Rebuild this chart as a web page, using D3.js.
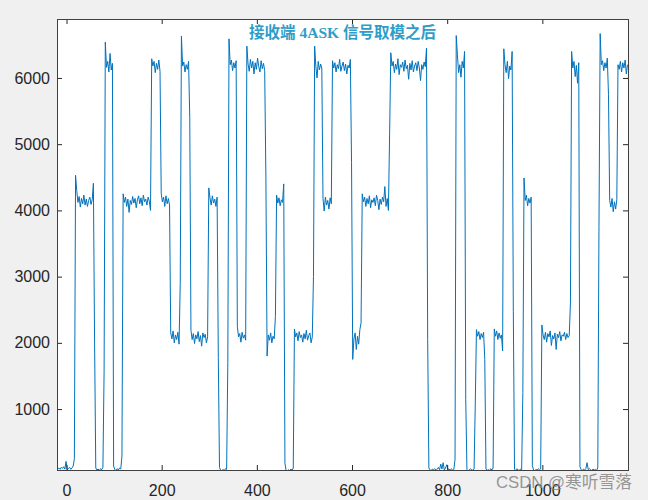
<!DOCTYPE html>
<html><head><meta charset="utf-8">
<script src="https://cdn.jsdelivr.net/npm/d3@7"></script>
<style>html,body{margin:0;padding:0;background:#f0f0f0;} svg{display:block}</style>
</head><body><svg id="c" width="648" height="500"></svg>
<script>
const chartTitle = "接收端 4ASK 信号取模之后";
const watermark = "CSDN @寒听雪落";
const xTicks = [0, 200, 400, 600, 800, 1000];
const yTicks = [1000, 2000, 3000, 4000, 5000, 6000];
const xLimits = [-20, 1180];
const yLimits = [80, 6890];
const sampleStart = -18.5, sampleStep = 2.5;

// samples before the first symbol
const leadIn = [95, 110, 90, 120, 105, 130, 95, 210, 85, 100, 120, 90, 110, 140, 250];
// read sample values, one row per received symbol (8 samples each)
const symbolSamples = [
  [4530, 4300, 4120, 4210, 4050, 4180, 4100, 4230],
  [4080, 4170, 4060, 4150, 4200, 4090, 4160, 4410],
  [2000, 110, 80, 95, 70, 100, 85, 120],
  [1570, 6540, 6160, 6250, 6090, 6370, 6120, 6220],
  [140, 85, 70, 100, 80, 110, 95, 290],
  [4250, 4120, 4200, 4060, 4170, 3970, 4150, 4090],
  [4210, 4110, 4180, 4040, 4160, 4220, 4100, 4190],
  [4070, 4230, 4130, 4170, 4080, 4200, 4140, 4000],
  [6290, 6180, 6250, 6080, 6220, 6130, 6270, 6100],
  [4260, 4130, 4200, 4060, 4220, 4100, 4180, 4080],
  [2150, 2060, 2180, 2000, 2120, 2050, 2160, 1980],
  [2900, 6630, 6180, 6240, 6090, 6200, 6130, 6250],
  [5400, 2190, 2050, 2140, 1990, 2120, 2060, 2170],
  [2020, 2110, 1950, 2150, 2080, 2130, 2000, 2090],
  [4340, 4190, 4080, 4220, 4110, 4170, 4060, 4200],
  [1780, 120, 75, 60, 90, 70, 100, 90],
  [1700, 6590, 6200, 6270, 6110, 6230, 6150, 6260],
  [2250, 2090, 2140, 2010, 2160, 2070, 2120, 2040],
  [6480, 6210, 6100, 6280, 6150, 6250, 6060, 6230],
  [6130, 6300, 6170, 6090, 6260, 6140, 6220, 6110],
  [4490, 1800, 2120, 2040, 2150, 2000, 2100, 2060],
  [2400, 4230, 4110, 4190, 4070, 4160, 4120, 4400],
  [180, 70, 60, 85, 70, 95, 75, 110],
  [2210, 2090, 2150, 2030, 2170, 2080, 2120, 2010],
  [2140, 2060, 2190, 2040, 2110, 2150, 2000, 2090],
  [3000, 6480, 6170, 6000, 6250, 6120, 6210, 6150],
  [4180, 3990, 4200, 4080, 4150, 4020, 4190, 4100],
  [6260, 6150, 6230, 6090, 6200, 6140, 6280, 6100],
  [6180, 6240, 6110, 6210, 6060, 6190, 6150, 6280],
  [4720, 1750, 2060, 2150, 1900, 2100, 1980, 2200],
  [2300, 4250, 4130, 4200, 4060, 4180, 4100, 4220],
  [4040, 4160, 4120, 4190, 4070, 4230, 4150, 4010],
  [4170, 4090, 4200, 4130, 4360, 4060, 4180, 4000],
  [5140, 6380, 6180, 6250, 6080, 6210, 6130, 6290],
  [6050, 6200, 6160, 6240, 6100, 6270, 6140, 6190],
  [5980, 6220, 6120, 6260, 6090, 6180, 6230, 6110],
  [6250, 6150, 5960, 6200, 6130, 6240, 6170, 6450],
  [2050, 110, 80, 70, 95, 85, 100, 75],
  [90, 120, 85, 170, 95, 190, 80, 110],
  [160, 90, 90, 85, 100, 75, 90, 240],
  [6640, 6350, 6080, 6200, 6010, 6250, 6150, 6400],
  [1140, 90, 70, 80, 100, 85, 75, 95],
  [1060, 2200, 2100, 2170, 2050, 2140, 2080, 2160],
  [1750, 95, 75, 85, 70, 100, 80, 110],
  [2210, 2100, 2180, 2050, 2150, 2070, 2120, 1880],
  [6440, 6200, 6080, 6250, 5990, 6180, 6120, 6400],
  [2470, 90, 75, 100, 80, 70, 95, 85],
  [1250, 4490, 4150, 4230, 4070, 4180, 4110, 4200],
  [150, 80, 70, 90, 75, 100, 85, 95],
  [2270, 2120, 2050, 2160, 2010, 2140, 2090, 2180],
  [1960, 2110, 2060, 2150, 1900, 2130, 2080, 2170],
  [2030, 2120, 2100, 2160, 2050, 2140, 2080, 2110],
  [2600, 6400, 6150, 6250, 6020, 6190, 5920, 6230],
  [130, 85, 70, 95, 80, 100, 190, 85],
  [100, 85, 70, 95, 80, 90, 75, 110],
  [3760, 6670, 6200, 6260, 6110, 6230, 6150, 6300],
  [5750, 4150, 4050, 4180, 3980, 4130, 4020, 4160],
  [6200, 6130, 6250, 6090, 6230, 6150, 6270, 6060, 6200]
];

const amplitude = leadIn.concat(...symbolSamples);
const series = amplitude.map((v, i) => ({ t: sampleStart + i * sampleStep, v }));

const W = 648, H = 500;
const m = { left: 57, top: 19 };
const pw = 571, ph = 451;
const svg = d3.select('#c');
svg.append('rect').attr('width', W).attr('height', H).attr('fill', '#f0f0f0');
const g = svg.append('g').attr('transform', `translate(${m.left},${m.top})`);
g.append('rect').attr('width', pw).attr('height', ph).attr('fill', '#fff');

const x = d3.scaleLinear().domain(xLimits).range([0, pw]);
const y = d3.scaleLinear().domain(yLimits).range([ph, 0]);

svg.append('defs').append('clipPath').attr('id', 'clip')
  .append('rect').attr('width', pw).attr('height', ph);

g.append('path').datum(series)
  .attr('clip-path', 'url(#clip)')
  .attr('fill', 'none').attr('stroke', '#0072BD').attr('stroke-width', 1)
  .attr('stroke-linejoin', 'miter')
  .attr('d', d3.line().x(d => x(d.t)).y(d => y(d.v)));

const font = "'Liberation Sans', Arial, Helvetica, sans-serif";
function style(sel) {
  sel.select('.domain').remove();
  sel.selectAll('line').attr('stroke', '#262626');
  sel.selectAll('text').attr('fill', '#262626').style('font-family', font).style('font-size', '16px');
}
g.append('g').attr('transform', `translate(0,${ph})`)
  .call(d3.axisBottom(x).tickValues(xTicks).tickSizeInner(-5).tickSizeOuter(0).tickPadding(15).tickFormat(d3.format('d')))
  .call(style);
g.append('g')
  .call(d3.axisTop(x).tickValues(xTicks).tickSizeInner(-5).tickSizeOuter(0).tickFormat(''))
  .call(style);
g.append('g')
  .call(d3.axisLeft(y).tickValues(yTicks).tickSizeInner(-5).tickSizeOuter(0).tickPadding(7).tickFormat(d3.format('d')))
  .call(style);
g.append('g').attr('transform', `translate(${pw},0)`)
  .call(d3.axisRight(y).tickValues(yTicks).tickSizeInner(-5).tickSizeOuter(0).tickFormat(''))
  .call(style);

g.append('rect').attr('width', pw).attr('height', ph)
  .attr('fill', 'none').attr('stroke', '#404040').attr('stroke-width', 1)
  .attr('shape-rendering', 'crispEdges');

g.append('text').attr('x', pw / 2).attr('y', 18.5)
  .attr('text-anchor', 'middle')
  .attr('fill', '#2f9dc8')
  .style('font-family', "'Liberation Serif', 'Times New Roman', 'Noto Sans CJK SC', serif")
  .style('font-weight', 'bold').style('font-size', '15.5px')
  .text(chartTitle);

svg.append('text').attr('x', 496).attr('y', 488)
  .attr('textLength', 136).attr('lengthAdjust', 'spacingAndGlyphs')
  .attr('fill', '#8a8a8a').attr('fill-opacity', 0.9)
  .style('font-family', "'Liberation Sans', 'Noto Sans CJK SC', sans-serif")
  .style('font-size', '17px')
  .text(watermark);
</script>
</body></html>
